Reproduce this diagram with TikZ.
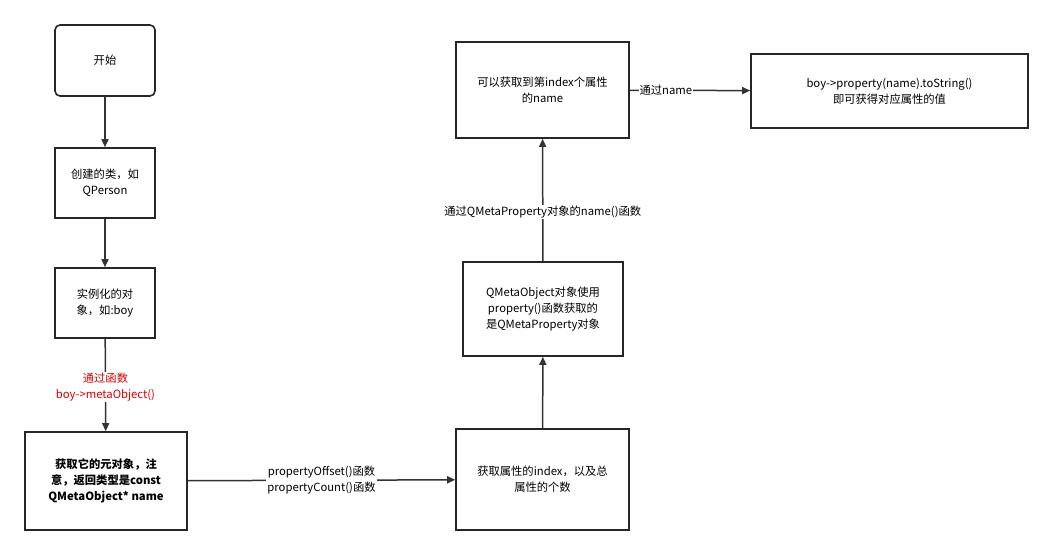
\documentclass[tikz,border=0pt]{standalone}
\usepackage{fontspec}
\setmainfont{Noto Sans CJK SC}
\usetikzlibrary{arrows.meta}
\begin{document}
\begin{tikzpicture}[x=1pt,y=-1pt,
  font=\fontsize{11.3}{16}\selectfont,
  box/.style={draw=black!85,line width=1.6pt,fill=white,align=center,inner sep=2pt},
  conn/.style={draw=black!80,line width=1.5pt,-{Triangle[length=8pt,width=7pt]}},
  lbl/.style={fill=white,align=center,inner sep=1pt}]
\useasboundingbox (0,0) rectangle (1053,556);
\node[box,rounded corners=5pt,minimum width=100pt,minimum height=71pt] (start) at (105,60.5) {开始};
\node[box,minimum width=100pt,minimum height=70pt] (cls) at (105,183) {创建的类，如\\QPerson};
\node[box,minimum width=100pt,minimum height=70pt] (inst) at (105,303) {实例化的对\\象，如:boy};
\node[box,minimum width=162pt,minimum height=98pt,font=\fontsize{11.3}{16}\selectfont\bfseries] (meta) at (106,481) {获取它的元对象，注\\意，返回类型是const\\QMetaObject* name};
\node[box,minimum width=173pt,minimum height=101pt] (idx) at (542.5,479.5) {获取属性的index，以及总\\属性的个数};
\node[box,minimum width=160pt,minimum height=94pt] (mp) at (543,309) {QMetaObject对象使用\\property()函数获取的\\是QMetaProperty对象};
\node[box,minimum width=173pt,minimum height=96pt] (nm) at (542.5,90) {可以获取到第index个属性\\的name};
\node[box,minimum width=277pt,minimum height=74pt] (res) at (889.5,91) {boy->property(name).toString()\\即可获得对应属性的值};
\draw[conn] (start) -- (cls);
\draw[conn] (cls) -- (inst);
\draw[conn] (inst) -- node[lbl,text=red!85!black,pos=0.52]{通过函数\\boy->metaObject()} (meta);
\draw[conn] (meta) -- node[lbl]{propertyOffset()函数\\propertyCount()函数} (idx);
\draw[conn] (idx) -- (mp);
\draw[conn] (mp) -- node[lbl,pos=0.4]{通过QMetaProperty对象的name()函数} (nm);
\draw[conn] (nm) -- node[lbl,pos=0.3]{通过name} (res);
\end{tikzpicture}
\end{document}
